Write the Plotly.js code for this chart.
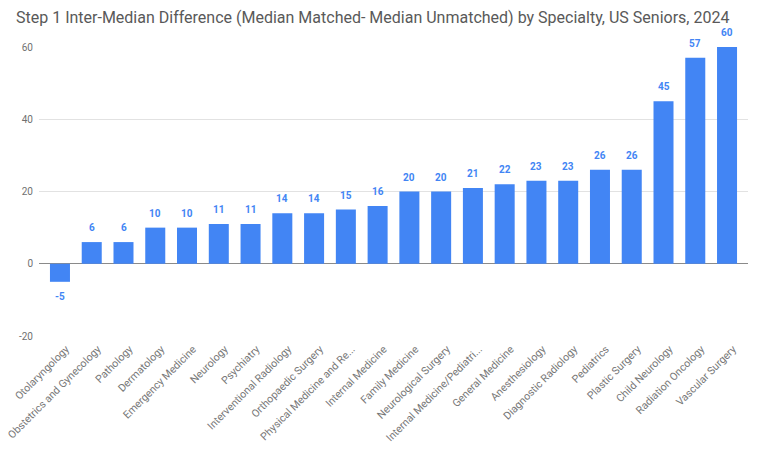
<!DOCTYPE html>
<html>
<head>
<meta charset="utf-8">
<script src="https://cdn.plot.ly/plotly-3.0.1.min.js"></script>
<style>html,body{margin:0;padding:0;background:#fff;}#chart{width:768px;height:453px;}</style>
</head>
<body>
<div id="chart"></div>
<script>
const specialties = ["Otolaryngology","Obstetrics and Gynecology","Pathology","Dermatology","Emergency Medicine","Neurology","Psychiatry","Interventional Radiology","Orthopaedic Surgery","Physical Medicine and Re...","Internal Medicine","Family Medicine","Neurological Surgery","Internal Medicine/Pediatri...","General Medicine","Anesthesiology","Diagnostic Radiology","Pediatrics","Plastic Surgery","Child Neurology","Radiation Oncology","Vascular Surgery"];
const differences = [-5,6,6,10,10,11,11,14,14,15,16,20,20,21,22,23,23,26,26,45,57,60];
const yTicks = [-20,0,20,40,60];
const titleText = "Step 1 Inter-Median Difference (Median Matched- Median Unmatched) by Specialty, US Seniors, 2024";

const barColor = "#4285F4";

const trace = {
  type: "bar",
  x: specialties,
  y: differences,
  marker: {color: barColor},
  width: 0.63,
  hoverinfo: "x+y"
};

const annotations = specialties.map((s, i) => ({
  x: s,
  y: differences[i],
  xref: "x", yref: "y",
  text: String(differences[i]),
  showarrow: false,
  yanchor: differences[i] >= 0 ? "bottom" : "top",
  yshift: differences[i] >= 0 ? 7 : -7,
  font: {family: "Roboto, Arial, sans-serif", size: 10, color: barColor, weight: "bold"}
}));

const layout = {
  width: 768, height: 453,
  margin: {l: 39, r: 20, t: 47, b: 117},
  paper_bgcolor: "#fff", plot_bgcolor: "#fff",
  title: {
    text: titleText,
    x: 16/768, xanchor: "left", xref: "container",
    y: 1 - 17/453, yanchor: "middle", yref: "container",
    font: {family: "Roboto, Arial, sans-serif", size: 16, color: "#595959"}
  },
  xaxis: {
    type: "category",
    range: [-0.66, 21.66],
    tickangle: -45,
    tickfont: {family: "Roboto, Arial, sans-serif", size: 10.6, color: "#777777"},
    ticklabelshift: 6,
    ticklabelstandoff: 4,
    showgrid: false, showline: false, ticks: "", zeroline: false,
    fixedrange: true
  },
  yaxis: {
    range: [-20, 60],
    tickvals: yTicks,
    ticktext: yTicks.map(String),
    tickfont: {family: "Roboto, Arial, sans-serif", size: 10, color: "#707070"},
    gridcolor: "#e2e2e2", gridwidth: 1,
    zeroline: true, zerolinecolor: "#8a8a8a", zerolinewidth: 1.3,
    showline: false, ticks: "", ticklen: 0, ticklabelstandoff: 5,
    fixedrange: true
  },
  annotations: annotations,
  showlegend: false,
  bargap: 0.37
};

Plotly.newPlot("chart", [trace], layout, {displayModeBar: false, staticPlot: true});
</script>
</body>
</html>
